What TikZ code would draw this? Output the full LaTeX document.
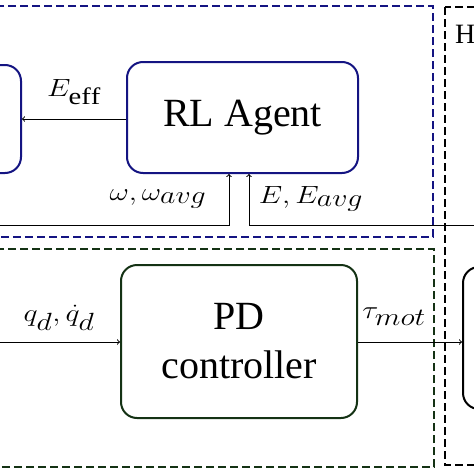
\documentclass[tikz,border=0pt]{standalone}
\usepackage{fontspec}
\setmainfont{Liberation Serif}
\usetikzlibrary{calc}
\definecolor{navy}{RGB}{20,20,130}
\definecolor{dgreen}{RGB}{20,50,20}
\newcommand{\wideM}[1]{\scalebox{1.2}[1]{#1}}
\begin{document}
\begin{tikzpicture}[x=1pt,y=-1pt,
  bigtxt/.style={font=\fontsize{40}{49}\selectfont},
  lbl/.style={font=\fontsize{34}{40}\selectfont, inner sep=0pt},
  blk/.style={draw, line width=2pt, rounded corners=16pt, align=center, inner sep=0pt},
  grp/.style={line width=2pt, dash pattern=on 8pt off 4pt},
  conn/.style={line width=1pt, ->, >=to}]
\useasboundingbox (0,0) rectangle (474,474);
\clip (0,0) rectangle (474,474);
\fill[white] (0,0) rectangle (474,474);
% group boxes
\draw[grp, navy] (-20,6) rectangle (433,237);
\draw[grp, dgreen] (-20,249) rectangle (434,467);
\draw[grp, black] (445,7) rectangle (500,465);
\node[anchor=west, font=\fontsize{28}{32}\selectfont, inner sep=0pt] (hw) at (455,34) {H};
% blocks
\node[blk, navy, minimum width=100pt, minimum height=108pt] (lb) at (-29,119) {};
\node[blk, navy, minimum width=231pt, minimum height=111pt, bigtxt, text=black] (rl) at (242.5,117.5) {RL Agent};
\node[blk, dgreen, minimum width=236pt, minimum height=153pt, bigtxt, text=black] (pd) at (239,341.5) {PD\\controller};
\node[blk, black, minimum width=100pt, minimum height=142pt] (rb) at (513,338) {};
% connectors
\draw[conn] (rl.west |- 0,119) -- (lb.east |- 0,119);
\coordinate (fl) at (-5,225);
\coordinate (fa) at (229,225);
\coordinate (fr) at (480,225);
\coordinate (fe) at (249,225);
\draw[conn] (fl) -- (fa) -- (fa |- rl.south);
\draw[conn] (fr) -- (fe) -- (fe |- rl.south);
\coordinate (qin) at (-5,342);
\draw[conn] (qin) -- (pd.west |- qin);
\draw[conn] (pd.east |- qin) -- (rb.west |- qin);
% labels
\node[lbl] (leff) at (74,92) {\wideM{$E_{\mathrm{eff}}$}};
\node[lbl] (lw) at (158,199) {\wideM{$\omega,\omega_{avg}$}};
\node[lbl] (le) at (311,199) {\wideM{$E,E_{avg}$}};
\node[lbl] (lq) at (59,318) {\wideM{$q_d,\dot q_d$}};
\node[lbl] (lt) at (394,317) {\wideM{$\tau_{mot}$}};
\end{tikzpicture}
\end{document}
